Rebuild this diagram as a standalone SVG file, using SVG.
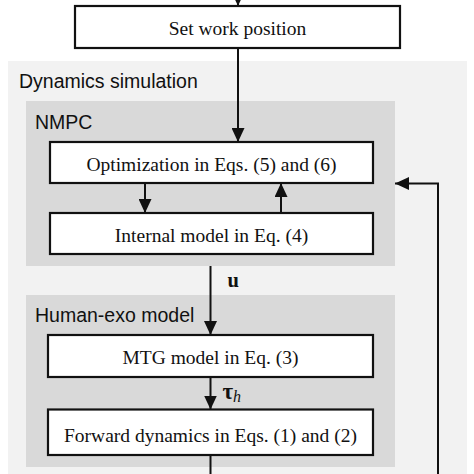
<svg xmlns="http://www.w3.org/2000/svg" width="474" height="474" viewBox="0 0 474 474">
  <style>
    .outer { fill: #f2f2f2; }
    .panel { fill: #d9d9d9; }
    .box { fill: #ffffff; stroke: #111111; stroke-width: 2.2; }
    .conn { fill: none; stroke: #111111; stroke-width: 2; }
    .sans { font-family: "Liberation Sans", Arial, sans-serif; font-size: 19.5px; fill: #111111; }
    .serif { font-family: "Liberation Serif", "Times New Roman", serif; font-size: 19.5px; fill: #111111; text-anchor: middle; }
    .math { font-family: "Liberation Serif", "Times New Roman", serif; fill: #111111; }
  </style>
  <defs>
    <marker id="arrow" markerUnits="userSpaceOnUse" markerWidth="14" markerHeight="13" refX="14" refY="6.5" orient="auto">
      <path d="M0,0 L14,6.5 L0,13 Z" fill="#111111"/>
    </marker>
  </defs>
  <rect width="474" height="474" fill="#ffffff"/>

  <g id="dynamics-simulation">
    <rect class="outer" x="8" y="61" width="459" height="413"/>
    <text class="sans" x="19" y="87.5">Dynamics simulation</text>
  </g>

  <g id="nmpc">
    <rect class="panel" x="26" y="101" width="369" height="165"/>
    <text class="sans" x="35" y="128.5">NMPC</text>
  </g>

  <g id="human-exo-model">
    <rect class="panel" x="26" y="295" width="369" height="172"/>
    <text class="sans" x="35" y="322">Human-exo model</text>
  </g>

  <g id="set-work-position">
    <rect class="box" x="75" y="6" width="325" height="42"/>
    <text class="serif" x="237.5" y="34.5">Set work position</text>
  </g>

  <g id="optimization">
    <rect class="box" x="50" y="142" width="323" height="41"/>
    <text class="serif" x="211.5" y="170.5">Optimization in Eqs. (5) and (6)</text>
  </g>

  <g id="internal-model">
    <rect class="box" x="50" y="213" width="323" height="41"/>
    <text class="serif" x="211.5" y="241.5">Internal model in Eq. (4)</text>
  </g>

  <g id="mtg-model">
    <rect class="box" x="48" y="335" width="325" height="42"/>
    <text class="serif" x="210.5" y="363.5">MTG model in Eq. (3)</text>
  </g>

  <g id="forward-dynamics">
    <rect class="box" x="48" y="409.5" width="325" height="45.5"/>
    <text class="serif" x="210.5" y="441.5">Forward dynamics in Eqs. (1) and (2)</text>
  </g>

  <g id="connectors">
    <line class="conn" x1="238" y1="-10" x2="238" y2="6" marker-end="url(#arrow)"/>
    <line class="conn" x1="238" y1="48" x2="238" y2="142" marker-end="url(#arrow)"/>
    <line class="conn" x1="145" y1="183" x2="145" y2="213" marker-end="url(#arrow)"/>
    <line class="conn" x1="281" y1="213" x2="281" y2="183" marker-end="url(#arrow)"/>
    <line class="conn" x1="210.5" y1="266" x2="210.5" y2="335" marker-end="url(#arrow)"/>
    <line class="conn" x1="210.5" y1="377" x2="210.5" y2="409.5" marker-end="url(#arrow)"/>
    <line class="conn" x1="210.5" y1="455" x2="210.5" y2="474"/>
    <polyline class="conn" points="438,474 438,183.5 395,183.5" marker-end="url(#arrow)"/>
    <text class="math" x="227.5" y="287" font-size="20.5" font-weight="bold">u</text>
    <text class="math" x="222.5" y="398.5" font-size="23" font-weight="bold">τ<tspan font-size="16" font-weight="normal" font-style="italic" dy="3.5">h</tspan></text>
  </g>
</svg>
